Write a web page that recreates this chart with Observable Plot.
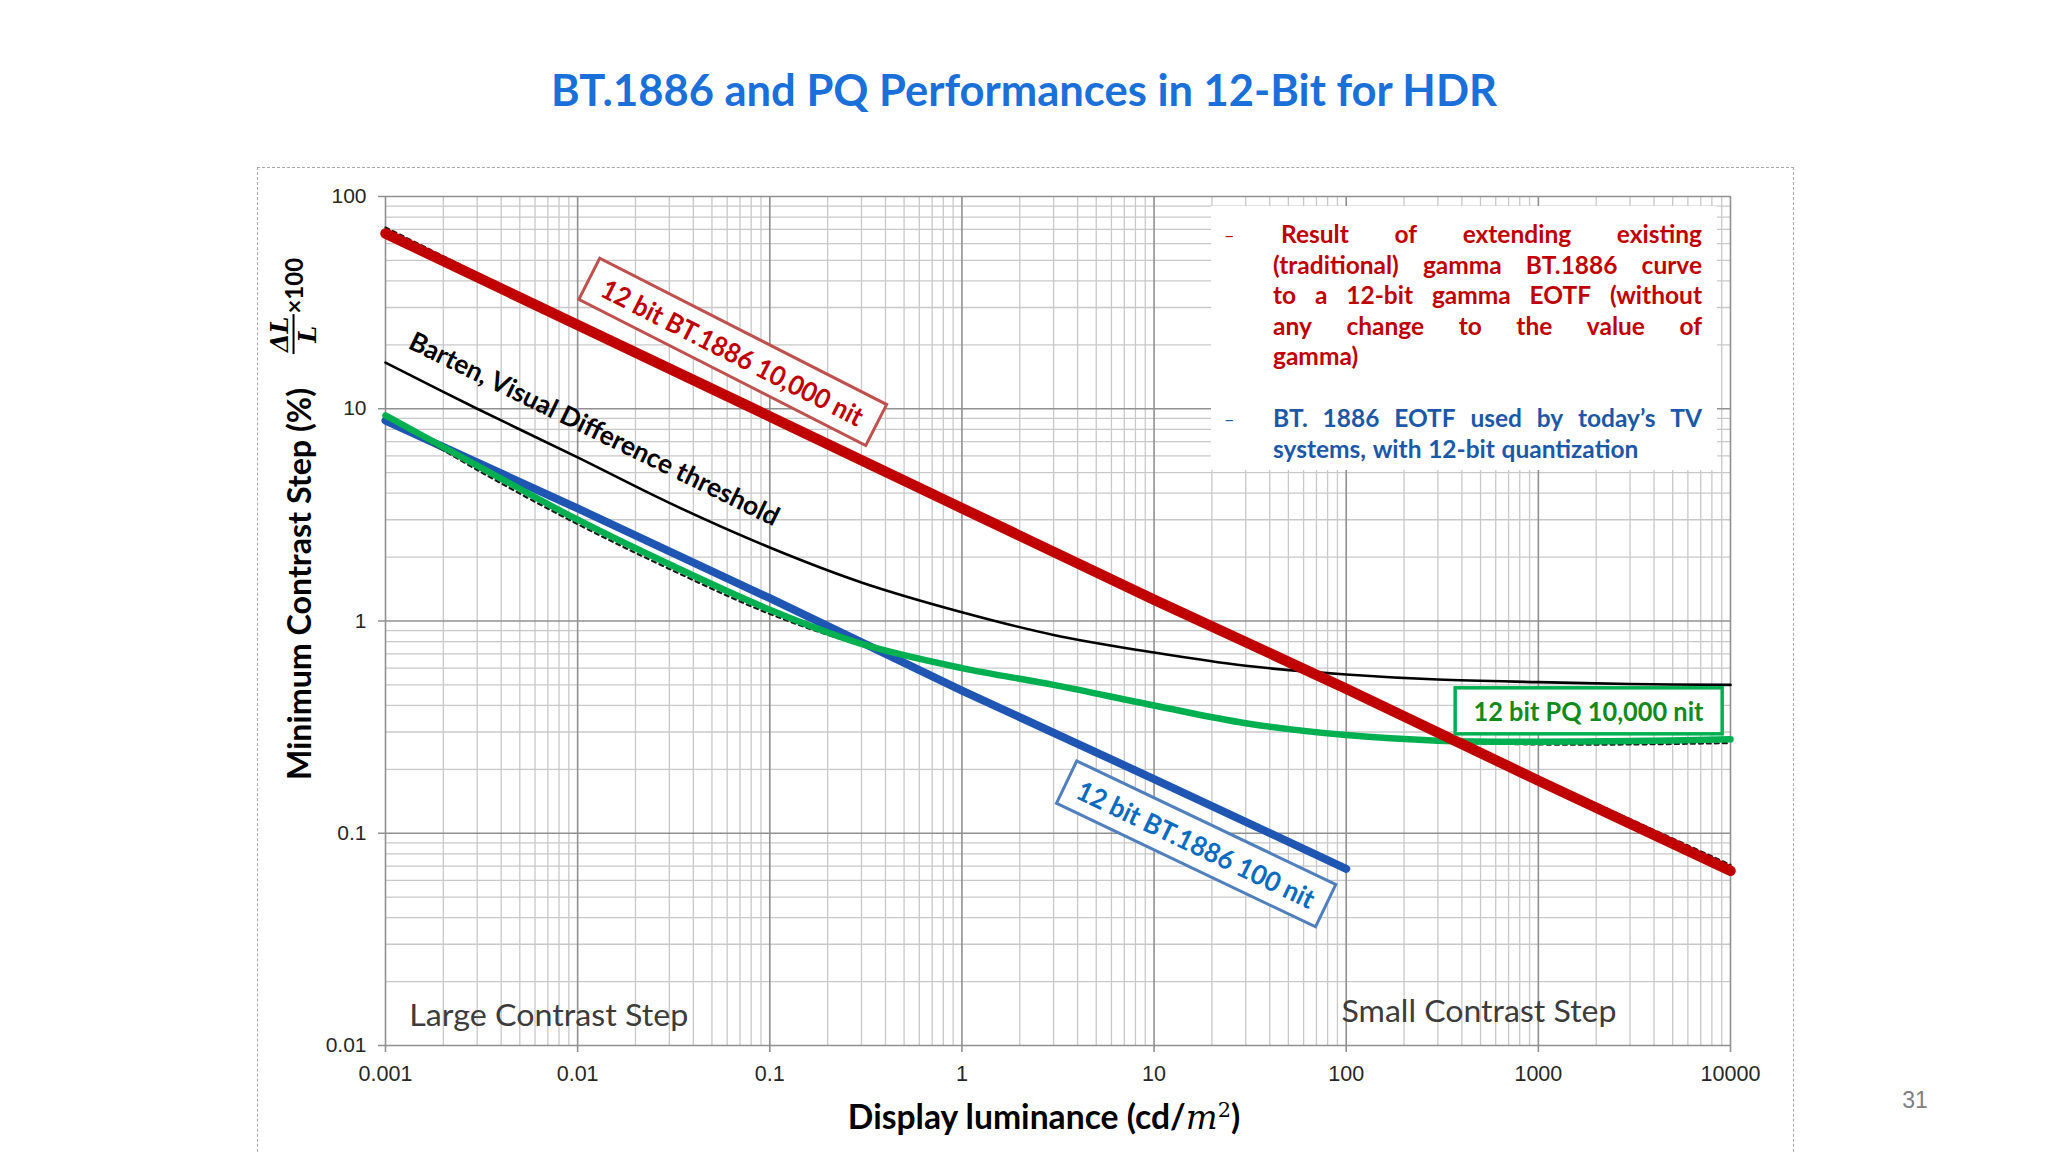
<!DOCTYPE html>
<html>
<head>
<meta charset="utf-8">
<script src="https://cdn.jsdelivr.net/npm/d3@7"></script>
<script src="https://cdn.jsdelivr.net/npm/@observablehq/plot@0.6"></script>
<style>
  html, body { margin: 0; padding: 0; background: #fff; }
  #page { position: relative; width: 2048px; height: 1152px; overflow: hidden; background: #fff; }
  #page > svg { position: absolute; left: 0; top: 0; }
  .abs { position: absolute; white-space: nowrap; line-height: 1; }
  .ctr { transform: translate(-50%, -50%); }
  .rot { transform: translate(-50%, -50%) rotate(-90deg); }
  #frame { left: 257px; top: 167px; width: 1537px; height: 1100px; border: 1.5px dashed #a8a8a8; box-sizing: border-box; }
  #title { left: 1024px; top: 90px; font-family: Lato, "Noto Sans", sans-serif; font-weight: 700; font-size: 40px; color: #1b6fd9; }
  #note { left: 1211px; top: 206px; width: 506px; height: 264px; background: #fff; }
  .nline { position: absolute; display: flex; justify-content: space-between; white-space: nowrap;
           font-family: Lato, "Noto Sans", sans-serif; font-weight: 700; font-size: 24.5px; line-height: 30px; height: 30px; }
  .nline.last { justify-content: flex-start; }
  .nline.last span { margin-right: 0.27em; }
  .bullet { position: absolute; font-family: Lato, sans-serif; font-size: 18px; font-weight: 400; line-height: 1; }
  #ytitle { left: 299px; top: 584px; font-family: Lato, "Noto Sans", sans-serif; font-weight: 700; font-size: 28px; color: #000; }
  #yformula { left: 294px; top: 306px; display: flex; align-items: center; color: #000; }
  .frac { display: inline-flex; flex-direction: column; align-items: center; font-family: "DejaVu Serif", serif;
          font-style: italic; font-weight: 700; font-size: 24px; line-height: 1.02; }
  .frac .num { border-bottom: 2px solid #000; padding: 0 2px 1px 2px; }
  .frac .den { padding-top: 1px; }
  .times { font-family: Lato, sans-serif; font-weight: 700; font-size: 24px; margin-left: 1px; }
  #xtitle { left: 1044px; top: 1117px; font-family: Lato, "Noto Sans", sans-serif; font-weight: 700; font-size: 28px; color: #000; }
  #xtitle .m { font-family: "DejaVu Serif", serif; font-style: italic; font-weight: 400; }
  #xtitle sup { font-family: "DejaVu Serif", serif; font-weight: 400; font-size: 0.62em; vertical-align: 0.55em; }
  #pagenum { left: 1915px; top: 1100px; font-family: "Liberation Sans", Arial, sans-serif; font-size: 23px; color: #7f7f7f; }
</style>
</head>
<body>
<div id="page">
  <div id="frame" class="abs"></div>
</div>
<script>
// ---- tick labels of the two logarithmic axes ----
const xTickLabels = ["0.001", "0.01", "0.1", "1", "10", "100", "1000", "10000"];
const yTickLabels = ["0.01", "0.1", "1", "10", "100"];

// ---- 12 bit BT.1886 extended to 10,000 nit (luminance cd/m², contrast step %) ----
const bt10kLum = [0.001, 0.01, 0.1, 1, 10, 100, 1000, 10000];
const bt10kStep = [67, 24.8, 9.2, 3.4, 1.26, 0.48, 0.177, 0.0665];
// dashed reference curve lying under it
const bt10kRefStep = [71.5, 25.3, 9.25, 3.4, 1.26, 0.48, 0.183, 0.071];

// ---- 12 bit BT.1886, 100 nit ----
const bt100Lum = [0.001, 0.01, 0.1, 1, 10, 100];
const bt100Step = [8.8, 3.39, 1.28, 0.47, 0.18, 0.068];

// ---- Barten visual difference threshold ----
const bartenLum = [0.001, 0.003, 0.01, 0.03, 0.1, 0.3, 1, 3, 10, 30, 100, 300, 1000, 3000, 10000];
const bartenStep = [16.5, 10.0, 5.9, 3.6, 2.22, 1.52, 1.10, 0.86, 0.71, 0.615, 0.56, 0.53, 0.515, 0.505, 0.50];

// ---- 12 bit PQ, 10,000 nit ----
const pqLum = [0.001, 0.003, 0.01, 0.03, 0.1, 0.3, 1, 3, 10, 30, 100, 300, 1000, 3000, 10000];
const pqStep = [9.3, 5.4, 3.0, 1.85, 1.13, 0.78, 0.60, 0.50, 0.40, 0.33, 0.29, 0.273, 0.27, 0.272, 0.277];
// dashed reference curve lying under it
const pqRefStep = [9.3, 5.15, 2.86, 1.76, 1.08, 0.77, 0.60, 0.50, 0.40, 0.33, 0.29, 0.27, 0.262, 0.262, 0.266];

// ---- text ----
const titleText = "BT.1886 and PQ Performances in 12-Bit for HDR";
const noteRed = ["Result of extending existing", "(traditional) gamma BT.1886 curve",
                 "to a 12-bit gamma EOTF (without", "any change to the value of", "gamma)"];
const noteBlue = ["BT. 1886 EOTF used by today\u2019s TV", "systems, with 12-bit quantization"];

// curve labels, anchored in data space (luminance, contrast step)
const labelBt10k  = [{x: 0.0635, y: 18.2, text: "12 bit BT.1886 10,000 nit"}];
const labelBarten = [{x: 0.01216, y: 7.98, text: "Barten, Visual Difference threshold"}];
const labelBt100  = [{x: 16.4, y: 0.0875, text: "12 bit BT.1886 100 nit"}];
const labelPq     = [{x: 1824, y: 0.3706, text: "12 bit PQ 10,000 nit"}];
const labelLarge  = [{x: 0.00133, y: 0.0137, text: "Large Contrast Step"}];
const labelSmall  = [{x: 94.5, y: 0.01428, text: "Small Contrast Step"}];

// ---- helpers ----
const rows = (lum, step) => lum.map((x, i) => ({x, y: step[i]}));
const majorX = xTickLabels.map(Number);
const majorY = yTickLabels.map(Number);
const minorX = d3.range(-3, 4).flatMap(e => d3.range(2, 10).map(m => m * 10 ** e));
const minorY = d3.range(-2, 2).flatMap(e => d3.range(2, 10).map(m => m * 10 ** e));

const SANS = "Lato, 'Noto Sans', sans-serif";
const NUM = "'Liberation Sans', Arial, sans-serif";
const lineOpts = {x: "x", y: "y"};

const chart = Plot.plot({
  width: 2048,
  height: 1152,
  marginLeft: 385,
  marginRight: 318,
  marginTop: 196,
  marginBottom: 107,
  x: {type: "log", domain: [0.001, 10000], axis: null},
  y: {type: "log", domain: [0.01, 100], axis: null},
  style: {background: "transparent", overflow: "visible"},
  marks: [
    // log grid
    Plot.ruleX(minorX, {stroke: "#c8c8c8", strokeWidth: 1.3}),
    Plot.ruleY(minorY, {stroke: "#c8c8c8", strokeWidth: 1.3}),
    Plot.ruleX(majorX, {stroke: "#909090", strokeWidth: 1.6, insetBottom: -7}),
    Plot.ruleY(majorY, {stroke: "#909090", strokeWidth: 1.6, insetLeft: -7}),

    // tick labels
    Plot.text(xTickLabels, {x: d => +d, text: d => d, frameAnchor: "bottom", dy: 35,
      fontSize: 21.5, fill: "#262626", fontFamily: NUM}),
    Plot.text(yTickLabels, {y: d => +d, text: d => d, frameAnchor: "left", textAnchor: "end", dx: -19,
      fontSize: 21, fill: "#262626", fontFamily: NUM}),

    // curves
    Plot.line(rows(bt100Lum, bt100Step), {...lineOpts, stroke: "#1f56b3", strokeWidth: 8}),
    Plot.line(rows(bartenLum, bartenStep), {...lineOpts, stroke: "#000", strokeWidth: 2.6, curve: "catmull-rom"}),
    Plot.line(rows(pqLum, pqRefStep), {...lineOpts, stroke: "#1a1a1a", strokeWidth: 2.2, strokeDasharray: "4,4", curve: "catmull-rom"}),
    Plot.line(rows(pqLum, pqStep), {...lineOpts, stroke: "#00b050", strokeWidth: 6.5, curve: "catmull-rom"}),
    Plot.line(rows(bt10kLum, bt10kRefStep), {...lineOpts, stroke: "#1a1a1a", strokeWidth: 2.2, strokeDasharray: "4,4"}),
    Plot.line(rows(bt10kLum, bt10kStep), {...lineOpts, stroke: "#c00000", strokeWidth: 10.5}),

    // curve labels
    Plot.text(labelBt10k, {x: "x", y: "y", text: "text", rotate: 27, fontSize: 27, fontWeight: 700,
      fill: "#c00000", fontFamily: SANS}),
    Plot.text(labelBarten, {x: "x", y: "y", text: "text", rotate: 26, fontSize: 26.5, fontWeight: 700,
      fill: "#000", fontFamily: SANS}),
    Plot.text(labelBt100, {x: "x", y: "y", text: "text", rotate: 25.5, fontSize: 27, fontWeight: 700,
      fill: "#0a6cc0", fontFamily: SANS}),
    Plot.text(labelPq, {x: "x", y: "y", text: "text", fontSize: 26, fontWeight: 700,
      fill: "#138a1c", fontFamily: SANS}),
    Plot.text(labelLarge, {x: "x", y: "y", text: "text", textAnchor: "start", fontSize: 30,
      fill: "#3c3c3c", fontFamily: SANS}),
    Plot.text(labelSmall, {x: "x", y: "y", text: "text", textAnchor: "start", fontSize: 30,
      fill: "#3c3c3c", fontFamily: SANS})
  ]
});

const page = document.getElementById("page");
page.insertBefore(chart, page.firstChild);

// stretch a label's text to its measured length and put a framed box behind it
const svgNS = "http://www.w3.org/2000/svg";
function finishLabel(label, length, box) {
  const texts = Array.from(chart.querySelectorAll("text")).filter(t => t.textContent === label[0].text);
  for (const t of texts) {
    t.setAttribute("textLength", length);
    t.setAttribute("lengthAdjust", "spacingAndGlyphs");
    if (!box) continue;
    const bb = t.getBBox();
    const cx = bb.x + bb.width / 2, cy = bb.y + bb.height / 2;
    const r = document.createElementNS(svgNS, "rect");
    r.setAttribute("x", cx - box.w / 2);
    r.setAttribute("y", cy - box.h / 2);
    r.setAttribute("width", box.w);
    r.setAttribute("height", box.h);
    r.setAttribute("fill", "#fff");
    r.setAttribute("stroke", box.stroke);
    r.setAttribute("stroke-width", box.sw);
    if (t.hasAttribute("transform")) r.setAttribute("transform", t.getAttribute("transform"));
    t.parentNode.insertBefore(r, t);
  }
}
finishLabel(labelBt10k, 290, {w: 322, h: 46, stroke: "#c0504d", sw: 3});
finishLabel(labelBarten, 408);
finishLabel(labelBt100, 260, {w: 287, h: 47, stroke: "#4f7fbd", sw: 3});
finishLabel(labelPq, 230, {w: 267, h: 46, stroke: "#00b050", sw: 3.5});
finishLabel(labelLarge, 279);
finishLabel(labelSmall, 275);

// ---- slide furniture in HTML ----
function add(html, id, cls) {
  const el = document.createElement("div");
  el.id = id;
  el.className = cls;
  el.innerHTML = html;
  page.appendChild(el);
  return el;
}
function fitFont(el, target) {
  const fs = parseFloat(getComputedStyle(el).fontSize);
  el.style.fontSize = (fs * target / el.offsetWidth) + "px";
}

const title = add(titleText, "title", "abs ctr");
fitFont(title, 946);

const ytitle = add("Minimum Contrast Step (%)", "ytitle", "abs rot");
fitFont(ytitle, 392);

add('<span class="frac"><span class="num">\u0394L</span><span class="den">L</span></span><span class="times">\u00d7100</span>',
    "yformula", "abs rot");

const xtitle = add('Display luminance (cd/<span class="m">m</span><sup>2</sup>)', "xtitle", "abs ctr");
fitFont(xtitle, 393);

add("31", "pagenum", "abs ctr");

// legend note: justified lines on a white panel
add("", "note", "abs");
function noteBlock(lines, color, firstCenter, bulletLeft, indentFirst) {
  const left = 1273, right = 1702;
  const bullet = document.createElement("div");
  bullet.className = "bullet";
  bullet.textContent = "\u2013";
  bullet.style.color = color;
  bullet.style.left = bulletLeft + "px";
  bullet.style.top = (firstCenter - 8) + "px";
  page.appendChild(bullet);
  lines.forEach((line, i) => {
    const div = document.createElement("div");
    const isLast = i === lines.length - 1;
    div.className = "nline" + (isLast ? " last" : "");
    const indent = i === 0 ? indentFirst : 0;
    div.style.left = (left + indent) + "px";
    div.style.width = (right - left - indent) + "px";
    div.style.top = (firstCenter + i * 30.5 - 15) + "px";
    div.style.color = color;
    for (const w of line.split(" ")) {
      const s = document.createElement("span");
      s.textContent = w;
      div.appendChild(s);
    }
    page.appendChild(div);
  });
}
noteBlock(noteRed, "#c00000", 234, 1224, 8);
noteBlock(noteBlue, "#1c58a8", 418, 1224, 0);
</script>
</body>
</html>
